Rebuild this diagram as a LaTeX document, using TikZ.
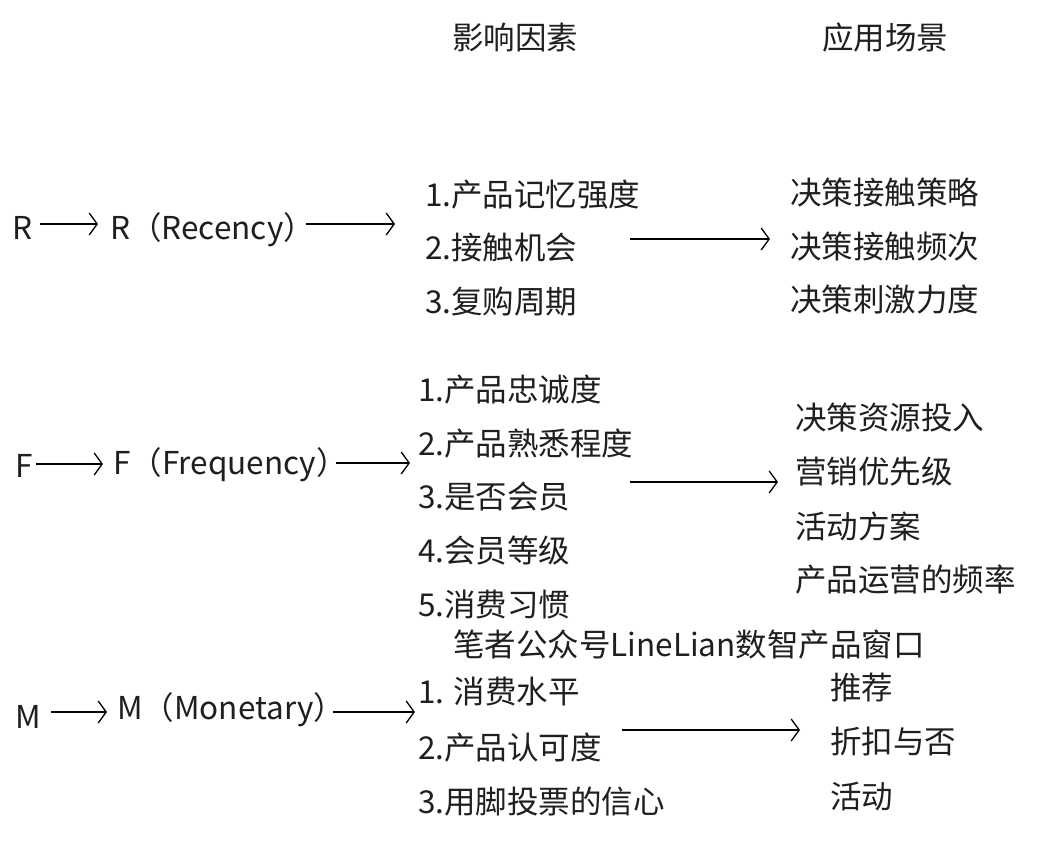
\documentclass[tikz,border=0pt]{standalone}
\usepackage{fontspec}
\newfontfamily\cjk{Noto Sans CJK SC}
\usetikzlibrary{arrows.meta}
\begin{document}
\begin{tikzpicture}[x=1pt,y=-1pt,
  txt/.style={anchor=west,inner sep=0pt,font=\cjk\fontsize{31.5}{36}\selectfont,text height=27pt,text depth=4pt,text=black!88},
  arr/.style={-{Straight Barb[length=8pt,width=22pt,line width=1.3pt]},line width=1.4pt,black}]
\useasboundingbox[fill=white] (0,0) rectangle (1058,844);
% headers
\node[txt] (h1) at (452,38) {影响因素};
\node[txt] (h2) at (822,38) {应用场景};
% R row
\node[txt] (r0) at (12,228) {R};
\node[txt] (r1) at (110,228) {R（Recency）};
\node[txt] (rf1) at (425,195) {1.产品记忆强度};
\node[txt] (rf2) at (425,248) {2.接触机会};
\node[txt] (rf3) at (425,302) {3.复购周期};
\node[txt] (ra1) at (790,193) {决策接触策略};
\node[txt] (ra2) at (790,247) {决策接触频次};
\node[txt] (ra3) at (790,300) {决策刺激力度};
\coordinate (rs) at (630,239);
\coordinate (re) at (770,239);
\draw[arr] (r0.east |- 0,224) ++(8,0) -- (98,224);
\draw[arr] (r1.east |- 0,224) ++(-9,0) -- (395,224);
\draw[arr] (rs) -- (re);
% F row
\node[txt] (f0) at (15,466) {F};
\node[txt] (f1) at (113,463) {F（Frequency）};
\node[txt] (ff1) at (418,390) {1.产品忠诚度};
\node[txt] (ff2) at (418,444) {2.产品熟悉程度};
\node[txt] (ff3) at (418,497) {3.是否会员};
\node[txt] (ff4) at (418,551) {4.会员等级};
\node[txt] (ff5) at (418,605) {5.消费习惯};
\node[txt] (fa1) at (795,418) {决策资源投入};
\node[txt] (fa2) at (795,472) {营销优先级};
\node[txt] (fa3) at (795,527) {活动方案};
\node[txt] (fa4) at (795,580) {产品运营的频率};
\coordinate (fs) at (630,482);
\coordinate (fe) at (778,482);
\draw[arr] (f0.east |- 0,464) ++(3,0) -- (103,464);
\draw[arr] (f1.east |- 0,463) ++(-12,0) -- (410,463);
\draw[arr] (fs) -- (fe);
% watermark
\node[txt] (wm) at (453,645) {笔者公众号LineLian数智产品窗口};
% M row
\node[txt] (m0) at (15,717) {M};
\node[txt] (m1) at (117,708) {M（Monetary）};
\node[txt] (mf1) at (418,692) {1. 消费水平};
\node[txt] (mf2) at (418,748) {2.产品认可度};
\node[txt] (mf3) at (418,802) {3.用脚投票的信心};
\node[txt] (ma1) at (830,688) {推荐};
\node[txt] (ma2) at (830,742) {折扣与否};
\node[txt] (ma3) at (830,797) {活动};
\coordinate (ms) at (622,730);
\coordinate (me) at (800,730);
\draw[arr] (m0.east |- 0,712) ++(10,0) -- (107,712);
\draw[arr] (m1.east |- 0,712) ++(-12,0) -- (415,712);
\draw[arr] (ms) -- (me);
\end{tikzpicture}
\end{document}
